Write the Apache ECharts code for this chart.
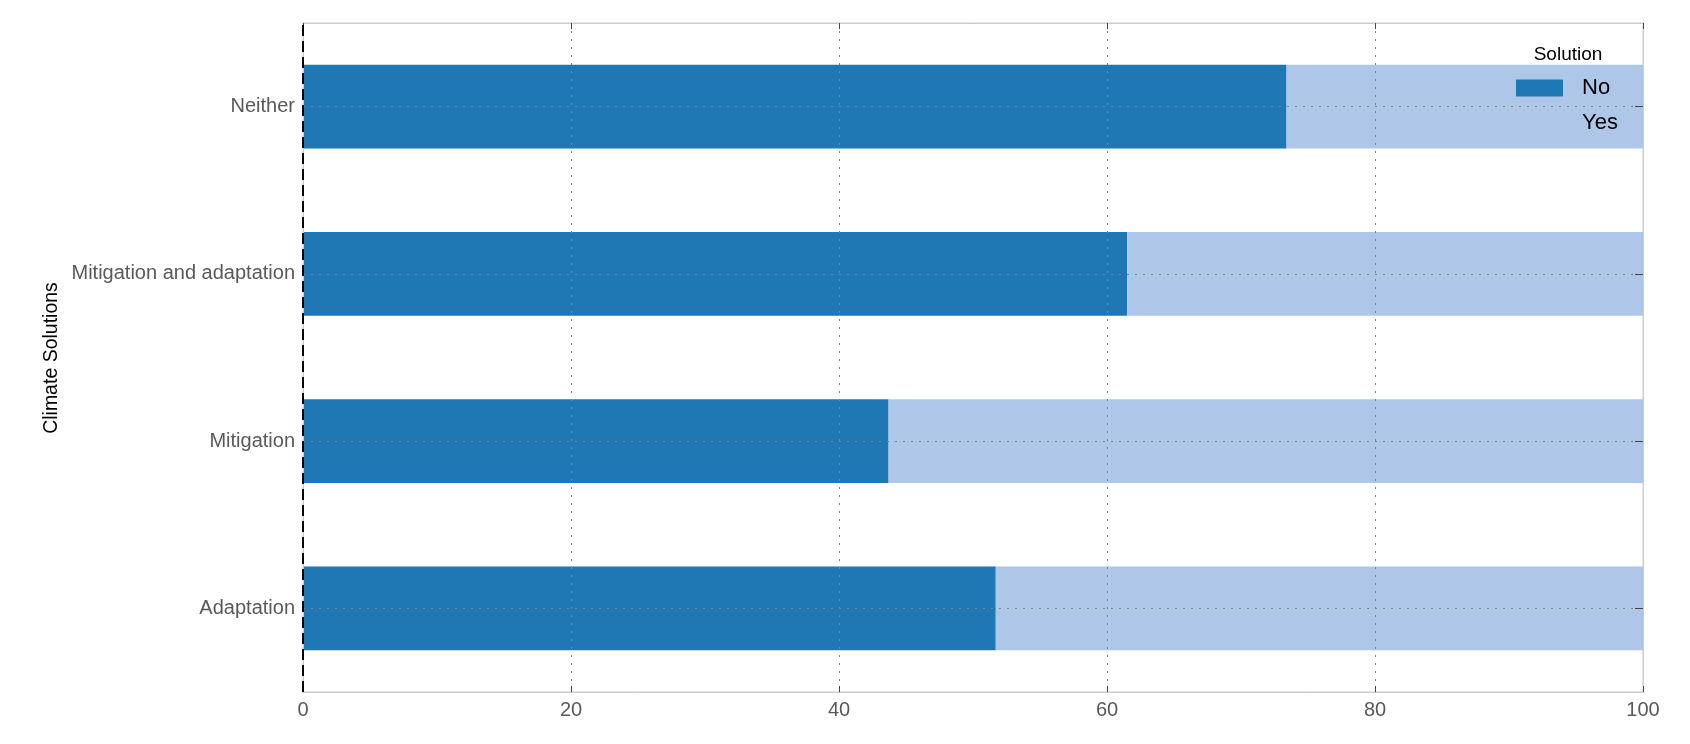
<!DOCTYPE html>
<html>
<head>
<meta charset="utf-8">
<script src="https://cdn.jsdelivr.net/npm/echarts@6/dist/echarts.min.js"></script>
<style>
html,body{margin:0;padding:0;background:#fff;}
#chart{width:1690px;height:744px;}
</style>
</head>
<body>
<div id="chart"></div>
<script>
var categories = ['Adaptation', 'Mitigation', 'Mitigation and adaptation', 'Neither'];
var noValues = [51.7, 43.7, 61.5, 73.4];
var yesValues = [48.3, 56.3, 38.5, 26.6];
var xTicks = [0, 20, 40, 60, 80, 100];

var FONT = "'Liberation Sans', Arial, sans-serif";
var chart = echarts.init(document.getElementById('chart'));
var gridLine = { show: true, lineStyle: { color: '#808080', width: 1, type: [2, 6] } };

chart.setOption({
  animation: false,
  textStyle: { fontFamily: FONT },
  grid: { left: 303, right: 47, top: 23, bottom: 52, show: true, borderColor: '#cccccc', borderWidth: 1, containLabel: false },
  xAxis: [{
    type: 'value', min: xTicks[0], max: xTicks[xTicks.length - 1], interval: 20, position: 'bottom', z: 3,
    axisLine: { show: true, onZero: false, lineStyle: { color: '#cccccc' } },
    axisTick: { show: true, inside: true, length: 6, lineStyle: { color: '#444' } },
    axisLabel: { color: '#595959', fontSize: 20, margin: 8, fontFamily: FONT },
    splitLine: gridLine
  }, {
    type: 'value', min: xTicks[0], max: xTicks[xTicks.length - 1], interval: 20, position: 'top', z: 3,
    axisLine: { show: true, onZero: false, lineStyle: { color: '#cccccc' } },
    axisTick: { show: true, inside: true, length: 6, lineStyle: { color: '#444' } },
    axisLabel: { show: false }, splitLine: { show: false }
  }],
  yAxis: [{
    type: 'category', data: categories, position: 'left', z: 3,
    axisLine: { show: true, onZero: false, lineStyle: { color: '#cccccc' } },
    axisTick: { show: false },
    axisLabel: { color: '#595959', fontSize: 20, margin: 8, fontFamily: FONT },
    splitLine: { show: true, alignWithLabel: true, lineStyle: { color: '#808080', width: 1, type: [2, 6] } }
  }, {
    type: 'category', data: categories, position: 'right', z: 3,
    axisLine: { show: true, onZero: false, lineStyle: { color: '#cccccc' } },
    axisTick: { show: true, inside: true, length: 8, alignWithLabel: true, lineStyle: { color: '#444' } },
    axisLabel: { show: false }, splitLine: { show: false }
  }],
  legend: {
    orient: 'vertical', left: 1511, top: 72, itemWidth: 47, itemHeight: 17, itemGap: 13,
    icon: 'rect', selectedMode: false,
    textStyle: { fontSize: 22, color: '#000', fontFamily: FONT, padding: [0, 0, 0, 14], lineHeight: 22 },
    data: ['No', 'Yes']
  },
  graphic: [
    { type: 'text', x: 1568, y: 55, style: { text: 'Solution', fontSize: 19, fill: '#000', fontFamily: FONT, align: 'center', verticalAlign: 'middle' } },
    { type: 'text', x: 52, y: 358, rotation: Math.PI / 2, style: { text: 'Climate Solutions', fontSize: 19.5, fill: '#000', fontFamily: FONT, align: 'center', verticalAlign: 'middle' } }
  ],
  series: [{
    name: 'No', type: 'bar', stack: 'total', data: noValues, barWidth: '50%',
    itemStyle: { color: '#1f77b4' },
    markLine: {
      silent: true, symbol: 'none', z: 6, label: { show: false },
      lineStyle: { color: '#000', type: [11, 5], width: 2 },
      data: [{ xAxis: 0 }]
    }
  }, {
    name: 'Yes', type: 'bar', stack: 'total', data: yesValues, barWidth: '50%',
    itemStyle: { color: '#aec7e8' }
  }]
});
</script>
</body>
</html>
